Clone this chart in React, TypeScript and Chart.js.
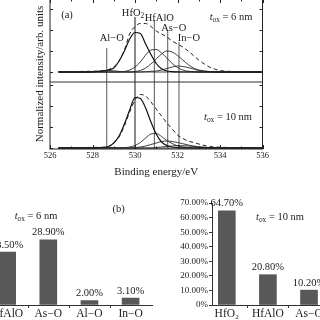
import React, { useEffect, useRef } from 'react';
import { Chart, registerables } from 'chart.js';

Chart.register(...registerables);

// ---------- data: XPS O 1s spectra (binding energy in eV) ----------
const ENERGY = [526.4, 527, 527.5, 528, 528.25, 528.5, 528.75, 529, 529.25, 529.5, 529.75, 530, 530.25, 530.5, 530.75, 531, 531.25, 531.5, 531.75, 532, 532.25, 532.5, 532.75, 533, 533.5, 534, 534.5, 535, 535.5, 536];

// t_ox = 6 nm (upper panel), intensity in arb. units above the panel baseline
const T6_MEASURED = [0.5, 0.5, 0.6, 0.8, 1, 1.5, 2.5, 5, 11, 22, 38, 45.5, 48.5, 48.5, 45.5, 41, 38, 35, 31, 28, 25, 21, 16.5, 12, 5, 1.5, 0.6, 0.3, 0.2, 0];
const T6_HFO2 = [0, 0, 0, 0.2, 0.5, 1, 2, 4, 11, 21, 33, 39.5, 38.5, 28, 17.5, 8.5, 3.2, 1, 0.4, 0.1, 0, 0, 0, 0, 0, 0, 0, 0, 0, 0];
const T6_HFALO = [0, 0, 0, 0, 0, 0, 0, 0, 0, 0.5, 2, 5, 10, 17, 22, 22.5, 19, 14, 8.5, 4.5, 2, 0.8, 0.3, 0, 0, 0, 0, 0, 0, 0];
const T6_ASO = [0, 0, 0, 0, 0, 0, 0, 0, 0, 0, 0, 0.5, 1.5, 4, 8, 13, 18, 21, 20, 16.5, 12, 7.5, 4, 2, 0.5, 0, 0, 0, 0, 0];
const T6_INO = [0, 0, 0, 0, 0, 0, 0, 0, 0, 0, 0, 0, 0, 0.3, 0.6, 1, 2, 3.5, 5, 6, 5.5, 4.5, 3, 1.5, 0.3, 0, 0, 0, 0, 0];
const T6_ALO = [0, 0, 0, 0.2, 0.6, 1.2, 1.5, 1.2, 0.6, 0.2, 0, 0, 0, 0, 0, 0, 0, 0, 0, 0, 0, 0, 0, 0, 0, 0, 0, 0, 0, 0];

// t_ox = 10 nm (lower panel)
const T10_MEASURED = [0.5, 0.5, 0.5, 0.6, 0.7, 0.8, 1.5, 5, 11, 22, 36, 48, 53.5, 52, 46, 39, 32, 25, 19, 13, 9.5, 7, 5.5, 4, 1.5, 0.8, 0.5, 0.3, 0.2, 0];
const T10_HFO2 = [0, 0, 0, 0, 0.2, 0.5, 1.5, 5, 12, 24, 38, 50.5, 49.5, 40, 26, 14, 6, 2.5, 1, 0.5, 0.2, 0, 0, 0, 0, 0, 0, 0, 0, 0];
const T10_HFALO = [0, 0, 0, 0, 0, 0, 0, 0, 0, 0.3, 1, 2.5, 5.5, 10, 14, 14.5, 11.5, 7.5, 4.5, 2.2, 1, 0.5, 0, 0, 0, 0, 0, 0, 0, 0];
const T10_ASO = [0, 0, 0, 0, 0, 0, 0, 0, 0, 0, 0, 0.3, 1, 2, 3.5, 5, 6.5, 7, 6.5, 5.5, 4.3, 3, 2, 1.2, 0.4, 0, 0, 0, 0, 0];
const T10_INO = [0, 0, 0, 0, 0, 0, 0, 0, 0, 0, 0, 0, 0, 0, 0, 0.5, 1, 1.5, 2, 2.5, 2.3, 2, 1.5, 1, 0.3, 0, 0, 0, 0, 0];
const T10_ALO = [0, 0, 0, 0, 0, 0.3, 0.5, 0.3, 0, 0, 0, 0, 0, 0, 0, 0, 0, 0, 0, 0, 0, 0, 0, 0, 0, 0, 0, 0, 0, 0];

// peak positions (eV) and heights of the marker lines (arb. units)
const PEAK_NAMES = ['Al−O', 'HfO2', 'HfAlO', 'As−O', 'In−O'];
const PEAK_POS = [528.67, 530.0, 530.91, 531.54, 532.07];
const PEAK_LINE_TOP = [101, 132, 129, 119, 107];

const X_MIN = 526;
const X_MAX = 536;
const X_STEP = 2;

// ---------- data: bond fractions ----------
const BAR_CATS = ['HfO₂', 'HfAlO', 'As−O', 'Al−O', 'In−O'];
const BAR_6NM = [42.5, 23.5, 28.9, 2.0, 3.1];
const BAR_10NM = [64.7, 20.8, 10.2, 2.0, 2.3];
const BAR_6NM_MAX = 45;
const BAR_10NM_MAX = 70;
const BAR_10NM_STEP = 10;

// ---------- layout / style ----------
const FONT = "'Liberation Serif', 'DejaVu Serif', serif";
const INK = '#1a1a1a';
const BASE_10 = 1;
const BASE_6 = 77;
const DIVIDER = 67;
const Y_TOP = 150;

type Seg = { t: string; sub?: boolean; it?: boolean };

function drawRich(ctx: CanvasRenderingContext2D, segs: Seg[], x: number, y: number, size: number, align: 'left' | 'center' | 'right' = 'center') {
  ctx.save();
  ctx.textBaseline = 'middle';
  ctx.textAlign = 'left';
  ctx.fillStyle = INK;
  const fontFor = (s: Seg) => `${s.it ? 'italic ' : ''}${s.sub ? size * 0.7 : size}px ${FONT}`;
  let w = 0;
  for (const s of segs) {
    ctx.font = fontFor(s);
    w += ctx.measureText(s.t).width;
  }
  let cx = align === 'center' ? x - w / 2 : align === 'right' ? x - w : x;
  for (const s of segs) {
    ctx.font = fontFor(s);
    ctx.fillText(s.t, cx, s.sub ? y + size * 0.3 : y);
    cx += ctx.measureText(s.t).width;
  }
  ctx.restore();
}

const nameSegs = (n: string): Seg[] => (n === 'HfO2' ? [{ t: 'HfO' }, { t: '2', sub: true }] : [{ t: n }]);
const toxSegs = (txt: string): Seg[] => [{ t: 't', it: true }, { t: 'ox', sub: true }, { t: txt }];

const TOP_CANVAS = { left: 0, top: -20, width: 300, height: 200 };
const LEFT_BAR_CANVAS = { left: -100, top: 180, width: 260, height: 145 };
const RIGHT_BAR_CANVAS = { left: 150, top: 180, width: 270, height: 145 };

// label offsets (px) relative to top of each marker line
const LABEL_DX = [5, -2, 5, 6, 10];
const LABEL_DY = [10, 4, 2, 2, 4];

function App() {
  const topRef = useRef<HTMLCanvasElement>(null);
  const leftRef = useRef<HTMLCanvasElement>(null);
  const rightRef = useRef<HTMLCanvasElement>(null);

  useEffect(() => {
    const charts: Chart[] = [];
    const mk = (arr: number[], base: number) => ENERGY.map((e, i) => ({ x: e, y: base + arr[i] }));
    const curve = (arr: number[], base: number, extra: any = {}) => ({
      data: mk(arr, base),
      borderColor: '#2a2a2a',
      borderWidth: 0.9,
      pointRadius: 0,
      fill: false,
      cubicInterpolationMode: 'monotone',
      ...extra,
    });

    const datasets: any[] = [
      curve(T6_MEASURED, BASE_6, { borderDash: [4, 3], borderWidth: 1, borderColor: '#222' }),
      curve(T6_HFO2, BASE_6, { borderWidth: 1.2, borderColor: '#111' }),
      curve(T6_HFALO, BASE_6),
      curve(T6_ASO, BASE_6),
      curve(T6_INO, BASE_6),
      curve(T6_ALO, BASE_6),
      curve(T10_MEASURED, BASE_10, { borderDash: [4, 3], borderWidth: 1, borderColor: '#222' }),
      curve(T10_HFO2, BASE_10, { borderWidth: 1.2, borderColor: '#111' }),
      curve(T10_HFALO, BASE_10),
      curve(T10_ASO, BASE_10),
      curve(T10_INO, BASE_10),
      curve(T10_ALO, BASE_10),
      {
        data: [{ x: X_MIN, y: DIVIDER }, { x: X_MAX, y: DIVIDER }],
        borderColor: '#333', borderWidth: 1, pointRadius: 0, tension: 0,
      },
      ...PEAK_POS.map((p, i) => ({
        data: [{ x: p, y: 0 }, { x: p, y: PEAK_LINE_TOP[i] }],
        borderColor: PEAK_NAMES[i] === 'HfO2' ? '#8c8c8c' : '#444',
        borderWidth: PEAK_NAMES[i] === 'HfO2' ? 2 : 0.9,
        pointRadius: 0,
        tension: 0,
      })),
    ];

    const xpsDecor = {
      id: 'xpsDecor',
      afterDraw(chart: any) {
        const { ctx, chartArea: a, scales } = chart;
        const x = scales.x;
        const y = scales.y;
        ctx.save();
        ctx.strokeStyle = '#222';
        ctx.lineWidth = 1;
        ctx.strokeRect(a.left, a.top, a.right - a.left, a.bottom - a.top);
        ctx.beginPath();
        for (let e = X_MIN; e <= X_MAX; e += 1) {
          const px = Math.round(x.getPixelForValue(e)) + 0.5;
          const L = e % 2 === 0 ? 4 : 2.5;
          ctx.moveTo(px, a.bottom); ctx.lineTo(px, a.bottom - L);
          ctx.moveTo(px, a.top); ctx.lineTo(px, a.top + L);
        }
        for (const base of [BASE_10, BASE_6]) {
          for (let k = 0; k < 4; k++) {
            const py = Math.round(y.getPixelForValue(base + k * 21)) + 0.5;
            if (py < a.top || py > a.bottom) continue;
            ctx.moveTo(a.left, py); ctx.lineTo(a.left + 3, py);
            ctx.moveTo(a.right, py); ctx.lineTo(a.right - 3, py);
          }
        }
        ctx.stroke();
        ctx.restore();

        PEAK_NAMES.forEach((n, i) => {
          const px = x.getPixelForValue(PEAK_POS[i]) + LABEL_DX[i];
          const py = y.getPixelForValue(PEAK_LINE_TOP[i]) - LABEL_DY[i];
          drawRich(ctx, nameSegs(n), px, py, 10.5);
        });
        const oy = -TOP_CANVAS.top;
        drawRich(ctx, [{ t: '(a)' }], 67, 15 + oy, 10.5);
        drawRich(ctx, toxSegs(' = 6 nm'), 231, 17 + oy, 10.5);
        drawRich(ctx, toxSegs(' = 10 nm'), 228, 117 + oy, 10.5);
      },
    };

    charts.push(new Chart(topRef.current!, {
      type: 'line',
      data: { datasets },
      plugins: [xpsDecor],
      options: {
        animation: false,
        responsive: false,
        events: [],
        layout: { padding: { left: 0, top: 19, right: 37.5, bottom: 0 } },
        plugins: { legend: { display: false }, tooltip: { enabled: false } },
        scales: {
          x: {
            type: 'linear', min: X_MIN, max: X_MAX,
            afterFit: (s: any) => { s.height = 31; },
            ticks: { stepSize: X_STEP, color: INK, font: { family: FONT, size: 8.5 }, padding: 2 },
            grid: { display: false, drawTicks: false },
            border: { display: false },
            title: { display: true, text: 'Binding energy/eV', color: INK, font: { family: FONT, size: 11 }, padding: { top: 0, bottom: 1.4 } },
          },
          y: {
            type: 'linear', min: 0, max: Y_TOP,
            afterFit: (s: any) => { s.width = 50; },
            ticks: { display: false },
            grid: { display: false, drawTicks: false },
            border: { display: false },
            title: { display: true, text: 'Normalized intensity/arb. units', color: INK, font: { family: FONT, size: 11 }, padding: { top: 33.4, bottom: 0 } },
          },
        },
      } as any,
    }));

    const barChart = (canvas: HTMLCanvasElement, values: number[], cfg: any) => {
      const barDecor = {
        id: 'barDecor',
        afterDatasetsDraw(chart: any) {
          const { ctx, chartArea: a, scales } = chart;
          const meta = chart.getDatasetMeta(0);
          ctx.save();
          ctx.fillStyle = INK;
          ctx.font = `10.5px ${FONT}`;
          ctx.textAlign = 'center';
          ctx.textBaseline = 'bottom';
          meta.data.forEach((el: any, i: number) => {
            ctx.fillText(values[i].toFixed(2) + '%', el.x, el.y - 2);
          });
          ctx.strokeStyle = '#333';
          ctx.lineWidth = 1;
          ctx.beginPath();
          for (let k = 1; k < values.length; k++) {
            const px = Math.round(scales.x.getPixelForValue(k + 0.5)) + 0.5;
            ctx.moveTo(px, a.bottom); ctx.lineTo(px, a.bottom + 3);
          }
          ctx.stroke();
          ctx.restore();
          cfg.annotate(ctx);
        },
      };
      return new Chart(canvas, {
        type: 'bar',
        data: {
          datasets: [{
            data: values.map((v, i) => ({ x: i + 1, y: v })),
            backgroundColor: '#585858',
            borderWidth: 0,
            barThickness: 17,
          }],
        },
        plugins: [barDecor],
        options: {
          animation: false,
          responsive: false,
          events: [],
          layout: { padding: cfg.padding },
          plugins: { legend: { display: false }, tooltip: { enabled: false } },
          scales: {
            x: {
              type: 'linear', min: cfg.xmin, max: cfg.xmax, offset: false,
              afterFit: (s: any) => { s.height = 20; },
              afterBuildTicks: (s: any) => { s.ticks = BAR_CATS.map((_, i) => ({ value: i + 1 })); },
              ticks: {
                autoSkip: false, maxRotation: 0, padding: 2, color: INK,
                font: { family: FONT, size: 11.5 },
                callback: (v: any) => BAR_CATS[Math.round(v) - 1] ?? '',
              },
              grid: { display: false, drawTicks: false, offset: false },
              border: { display: true, color: '#333', width: 1 },
            },
            y: {
              type: 'linear', min: 0, max: cfg.ymax,
              afterFit: (s: any) => { s.width = cfg.yWidth; },
              ticks: {
                stepSize: cfg.ystep, padding: 1, color: INK,
                font: { family: FONT, size: 9 },
                callback: (v: any) => (v === 0 ? '0%' : Number(v).toFixed(2) + '%'),
              },
              grid: { display: true, drawOnChartArea: false, drawTicks: true, tickLength: 3, color: '#333' },
              border: { display: true, color: '#333', width: 1 },
            },
          },
        } as any,
      });
    };

    charts.push(barChart(leftRef.current!, BAR_6NM, {
      xmin: 0.64, xmax: 5.52, ymax: BAR_6NM_MAX, ystep: 5, yWidth: 51.2,
      padding: { left: 0, top: 23.7, right: 8, bottom: 0 },
      annotate: (ctx: CanvasRenderingContext2D) => {
        const ox = -LEFT_BAR_CANVAS.left;
        const oy = -LEFT_BAR_CANVAS.top;
        drawRich(ctx, toxSegs(' = 6 nm'), 36 + ox, 216 + oy, 10.5);
        drawRich(ctx, [{ t: '(b)' }], 118.5 + ox, 209 + oy, 10.5);
      },
    }));

    charts.push(barChart(rightRef.current!, BAR_10NM, {
      xmin: 0.64, xmax: 5.7, ymax: BAR_10NM_MAX, ystep: BAR_10NM_STEP, yWidth: 62,
      padding: { left: 0, top: 23, right: 0, bottom: 0 },
      annotate: (ctx: CanvasRenderingContext2D) => {
        const ox = -RIGHT_BAR_CANVAS.left;
        const oy = -RIGHT_BAR_CANVAS.top;
        drawRich(ctx, toxSegs(' = 10 nm'), 280 + ox, 217 + oy, 10.5);
      },
    }));

    return () => charts.forEach((c) => c.destroy());
  }, []);

  const cstyle = (c: { left: number; top: number }) => ({ position: 'absolute' as const, left: c.left, top: c.top });

  return (
    <div style={{ position: 'absolute', left: 0, top: 0, width: 320, height: 320, overflow: 'hidden', background: '#fff' }}>
      <canvas ref={topRef} width={TOP_CANVAS.width} height={TOP_CANVAS.height} style={cstyle(TOP_CANVAS)} />
      <canvas ref={leftRef} width={LEFT_BAR_CANVAS.width} height={LEFT_BAR_CANVAS.height} style={cstyle(LEFT_BAR_CANVAS)} />
      <canvas ref={rightRef} width={RIGHT_BAR_CANVAS.width} height={RIGHT_BAR_CANVAS.height} style={cstyle(RIGHT_BAR_CANVAS)} />
    </div>
  );
}

export default App;
